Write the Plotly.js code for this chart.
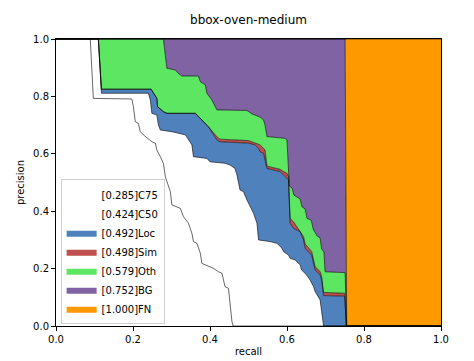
<!DOCTYPE html>
<html>
<head>
<meta charset="utf-8">
<script src="https://cdn.plot.ly/plotly-3.0.1.min.js"></script>
<style>html,body{margin:0;padding:0;background:#fff;}#chart{width:474px;height:361px;}</style>
</head>
<body>
<div id="chart"></div>
<script>
// ---- data (recall / precision) ----
const seriesNames = ["C75", "C50", "Loc", "Sim", "Oth", "BG", "FN"];
const seriesAP = ["0.285", "0.424", "0.492", "0.498", "0.579", "0.752", "1.000"];
const seriesColors = ["#ffffff", "#ffffff", "#4f82bd", "#bf4f4d", "#5ce661", "#8063a3", "#ff9900"];

const recallC75 = [0, 0.089, 0.097, 0.197, 0.201, 0.206, 0.214, 0.219, 0.227, 0.249, 0.258, 0.262, 0.271, 0.279, 0.284, 0.292, 0.297, 0.301, 0.323, 0.331, 0.344, 0.353, 0.357, 0.366, 0.375, 0.379, 0.396, 0.409, 0.422, 0.431, 0.439, 0.448, 0.457, 0.460, 1.0];
const precC75   = [1, 1, 0.793, 0.791, 0.764, 0.712, 0.706, 0.677, 0.666, 0.642, 0.637, 0.613, 0.590, 0.567, 0.520, 0.491, 0.468, 0.422, 0.410, 0.381, 0.358, 0.323, 0.294, 0.288, 0.253, 0.218, 0.207, 0.201, 0.189, 0.184, 0.137, 0.131, 0.015, 0, 0];

const recallC50 = [0, 0.110, 0.118, 0.240, 0.245, 0.249, 0.262, 0.266, 0.271, 0.301, 0.336, 0.344, 0.353, 0.357, 0.392, 0.400, 0.439, 0.452, 0.465, 0.470, 0.478, 0.487, 0.496, 0.509, 0.513, 0.522, 0.526, 0.556, 0.574, 0.587, 0.591, 0.604, 0.608, 0.621, 0.634, 0.638, 0.651, 0.660, 0.669, 0.673, 0.686, 0.690, 0.695, 1.0];
const precC50   = [1, 1, 0.811, 0.811, 0.787, 0.741, 0.735, 0.700, 0.683, 0.677, 0.666, 0.648, 0.631, 0.590, 0.584, 0.572, 0.567, 0.561, 0.549, 0.526, 0.474, 0.468, 0.439, 0.404, 0.393, 0.358, 0.300, 0.294, 0.288, 0.271, 0.259, 0.247, 0.236, 0.230, 0.213, 0.195, 0.178, 0.160, 0.137, 0.120, 0.091, 0.050, 0, 0];

const recallLoc = [0, 0.110, 0.118, 0.247, 0.262, 0.264, 0.279, 0.288, 0.362, 0.375, 0.388, 0.396, 0.418, 0.426, 0.500, 0.517, 0.526, 0.530, 0.539, 0.548, 0.582, 0.591, 0.600, 0.604, 0.608, 0.617, 0.634, 0.643, 0.647, 0.664, 0.673, 0.686, 0.690, 0.695, 0.750, 0.754, 1.0];
const precLoc   = [1, 1, 0.825, 0.825, 0.793, 0.764, 0.747, 0.741, 0.741, 0.724, 0.706, 0.694, 0.648, 0.642, 0.637, 0.631, 0.619, 0.607, 0.602, 0.549, 0.538, 0.526, 0.515, 0.509, 0.358, 0.340, 0.329, 0.300, 0.271, 0.247, 0.195, 0.178, 0.160, 0.106, 0.104, 0, 0];

const recallSim = [0, 0.110, 0.118, 0.247, 0.262, 0.264, 0.279, 0.288, 0.362, 0.375, 0.388, 0.396, 0.418, 0.426, 0.500, 0.517, 0.530, 0.539, 0.543, 0.548, 0.582, 0.591, 0.600, 0.604, 0.608, 0.617, 0.625, 0.634, 0.643, 0.647, 0.664, 0.673, 0.686, 0.690, 0.695, 0.750, 0.754, 1.0];
const precSim   = [1, 1, 0.825, 0.825, 0.793, 0.764, 0.747, 0.741, 0.741, 0.724, 0.706, 0.694, 0.659, 0.651, 0.646, 0.639, 0.631, 0.619, 0.613, 0.557, 0.546, 0.538, 0.532, 0.520, 0.375, 0.363, 0.346, 0.329, 0.311, 0.286, 0.260, 0.207, 0.190, 0.171, 0.117, 0.114, 0, 0];

const recallOth = [0, 0.279, 0.288, 0.310, 0.318, 0.327, 0.370, 0.375, 0.388, 0.392, 0.405, 0.413, 0.418, 0.496, 0.509, 0.530, 0.539, 0.543, 0.548, 0.595, 0.600, 0.606, 0.613, 0.618, 0.630, 0.634, 0.639, 0.647, 0.652, 0.663, 0.668, 0.678, 0.686, 0.690, 0.696, 0.699, 0.751, 0.755, 1.0];
const precOth   = [1, 1, 0.898, 0.892, 0.880, 0.871, 0.871, 0.851, 0.840, 0.811, 0.787, 0.764, 0.753, 0.751, 0.739, 0.728, 0.718, 0.700, 0.660, 0.654, 0.648, 0.488, 0.481, 0.456, 0.448, 0.443, 0.415, 0.408, 0.375, 0.369, 0.338, 0.314, 0.307, 0.268, 0.258, 0.189, 0.186, 0, 0];

const recallBG = [0, 0.751, 0.755, 1.0];
const precBG   = [1, 1, 0, 0];

const recallFN = [0, 1.0];
const precFN   = [1, 1];

const tickVals = [0, 0.2, 0.4, 0.6, 0.8, 1.0];
const tickText = ["0.0", "0.2", "0.4", "0.6", "0.8", "1.0"];

// ---- traces ----
const recalls = [recallC75, recallC50, recallLoc, recallSim, recallOth, recallBG, recallFN];
const precs = [precC75, precC50, precLoc, precSim, precOth, precBG, precFN];

const fills = seriesNames.map((n, i) => ({
  type: "scatter", mode: "lines",
  x: recalls[i], y: precs[i],
  fill: i === 0 ? "tozeroy" : "tonexty",
  fillcolor: seriesColors[i],
  line: {width: 0, color: seriesColors[i]},
  name: "[" + seriesAP[i] + "]" + n,
  hoverinfo: "skip"
}));
const lines = seriesNames.map((n, i) => ({
  type: "scatter", mode: "lines",
  x: recalls[i], y: precs[i],
  line: {width: 0.6, color: "#000"},
  showlegend: false, hoverinfo: "skip"
}));

const axisCommon = {
  range: [0, 1], tickvals: tickVals, ticktext: tickText,
  ticks: "outside", ticklen: 4, tickwidth: 1, tickcolor: "#000",
  showline: true, linecolor: "#000", linewidth: 1, mirror: true,
  showgrid: false, zeroline: false,
  tickfont: {size: 10, color: "#000", family: "DejaVu Sans"}
};

const layout = {
  width: 474, height: 361,
  margin: {l: 56, r: 33, t: 39, b: 35, pad: 0},
  paper_bgcolor: "#fff", plot_bgcolor: "#fff",
  font: {family: "DejaVu Sans", color: "#000"},
  title: {text: "bbox-oven-medium", font: {size: 12, color: "#000", family: "DejaVu Sans"},
          x: 0.5, xref: "paper", y: 0.944, yref: "container", yanchor: "middle"},
  xaxis: Object.assign({}, axisCommon, {title: {text: "recall", font: {size: 10, color: "#000"}, standoff: 3}}),
  yaxis: Object.assign({}, axisCommon, {title: {text: "precision", font: {size: 10, color: "#000"}, standoff: 6}}),
  showlegend: true,
  legend: {
    x: 0.012, y: 0.006, xanchor: "left", yanchor: "bottom",
    traceorder: "normal",
    bgcolor: "rgba(255,255,255,0.85)", bordercolor: "#d0d0d0", borderwidth: 1,
    font: {size: 10, color: "#000", family: "DejaVu Sans"},
    itemwidth: 30
  }
};

Plotly.newPlot("chart", fills.concat(lines), layout, {displayModeBar: false, staticPlot: true});
</script>
</body>
</html>
